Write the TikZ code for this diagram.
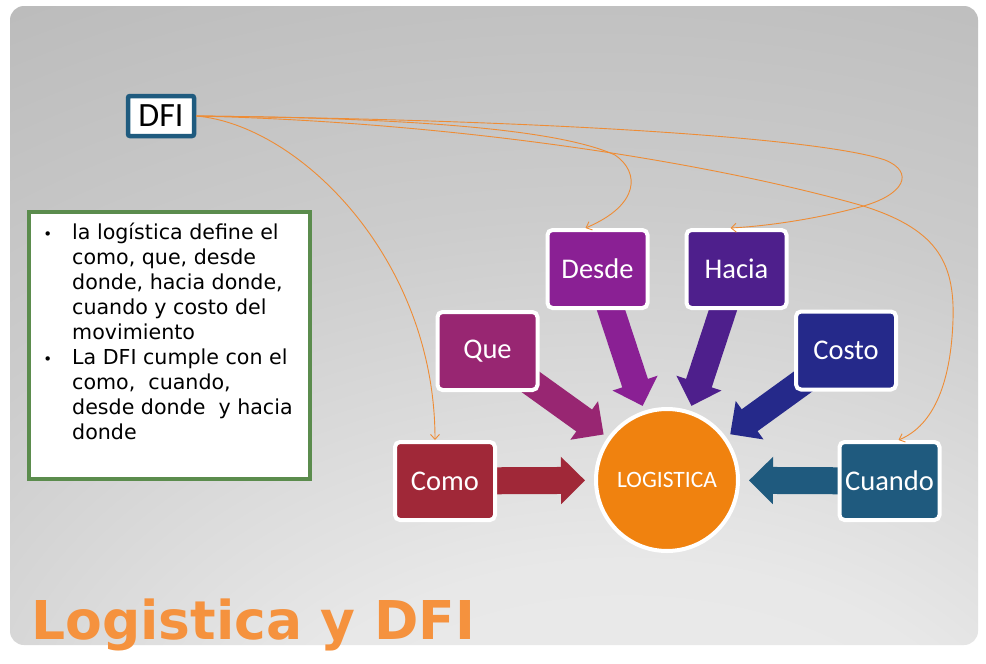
\documentclass[tikz,border=0pt]{standalone}
\usepackage{fontspec}
\setmainfont{DejaVu Sans}
\newfontfamily\calib{Carlito}
\newfontfamily\dejavu{DejaVu Sans}
\usetikzlibrary{arrows.meta,calc}
\pgfdeclarelayer{bg}
\pgfdeclarelayer{barrows}
\pgfsetlayers{bg,barrows,main}
\definecolor{comoc}{HTML}{A02838}
\definecolor{quec}{HTML}{982672}
\definecolor{desdec}{HTML}{8A2094}
\definecolor{haciac}{HTML}{4E1F8C}
\definecolor{costoc}{HTML}{25298A}
\definecolor{cuandoc}{HTML}{1F5A7E}
\definecolor{logic}{HTML}{F0820F}
\definecolor{dfiblue}{HTML}{1F5B7F}
\definecolor{boxgreen}{HTML}{5B8C4D}
\definecolor{titleorange}{HTML}{F5923E}
\definecolor{lineorange}{HTML}{EE8C35}
\pgfdeclareradialshading{slidebg}{\pgfpoint{8bp}{-46bp}}{%
  color(0bp)=(black!7); color(20bp)=(black!9); color(40bp)=(black!20);
  color(65bp)=(black!29); color(95bp)=(black!34); color(125bp)=(black!37)}
\tikzset{
  wbox/.style={draw=white, line width=4pt, rounded corners=5pt,
    minimum width=100pt, minimum height=78pt, inner sep=0pt,
    font=\calib\fontsize{28.5}{30}\selectfont, text=white},
  barrow/.style={line width=27pt, -{Triangle[length=24pt,width=46pt]}},
  orangeline/.style={draw=lineorange, line width=0.9pt,
    -{Straight Barb[length=5pt,width=9pt]}},
}
\begin{document}
\begin{tikzpicture}[x=1pt,y=-1pt]
\useasboundingbox (0,0) rectangle (986,664);
\begin{pgfonlayer}{bg}
  \fill[white] (0,0) rectangle (986,664);
  \shade[shading=slidebg, rounded corners=14pt] (10,6) rectangle (978,645);
\end{pgfonlayer}

% title
\node[anchor=base west, inner sep=0pt, text=titleorange,
  font=\dejavu\bfseries\fontsize{53.5}{58}\selectfont] (title) at (31,639) {Logistica y DFI};

% DFI box
\node[draw=dfiblue, line width=4.5pt, fill=white, minimum width=66pt,
  minimum height=40pt, rounded corners=2pt, inner sep=0pt,
  font=\calib\fontsize{34}{36}\selectfont] (dfi) at (161,116) {DFI};

% notes box
\node[draw=boxgreen, fill=white, line width=4pt, minimum width=281pt,
  minimum height=267pt, inner sep=0pt] (notes) at (169.5,345.5) {};
\node[anchor=north west, inner sep=0pt, font=\dejavu\fontsize{20.6}{25}\selectfont] (notetext) at (30,221.5) {%
\begin{tabular}{@{}p{42pt}@{}l@{}}
\hfill{\fontsize{15}{25}\selectfont •}\hspace{20pt} & la logística define el\\
 & como, que, desde\\
 & donde, hacia donde,\\
 & cuando y costo del\\
 & movimiento\\
\hfill{\fontsize{15}{25}\selectfont •}\hspace{20pt} & La DFI cumple con el\\
 & como,\ \ cuando,\\
 & desde donde\ \ y hacia\\
 & donde
\end{tabular}};

% boxes
\node[wbox, fill=comoc] (como) at (445,481) {Como};
\node[wbox, fill=quec] (que) at (487.5,351) {Que};
\node[wbox, fill=desdec] (desde) at (597.5,269) {Desde};
\node[wbox, fill=haciac] (hacia) at (736.5,269) {Hacia};
\node[wbox, fill=costoc] (costo) at (846,350.5) {Costo};
\node[wbox, fill=cuandoc] (cuando) at (889.5,481) {Cuando};
\node[circle, fill=logic, draw=white, line width=4pt, minimum size=142pt,
  inner sep=0pt, text=white, font=\calib\fontsize{23.5}{25}\selectfont] (logi) at (667,480) {LOGISTICA};

% block arrows
\begin{pgfonlayer}{barrows}
  \draw[barrow, draw=comoc, shorten >=9pt] (como.center) -- (logi);
  \draw[barrow, draw=quec, shorten >=5pt] (que.center) -- (logi);
  \draw[barrow, draw=desdec, shorten >=5pt] (desde.center) -- (logi);
  \draw[barrow, draw=haciac, shorten >=5pt] (hacia.center) -- (logi);
  \draw[barrow, draw=costoc, shorten >=5pt] (costo.center) -- (logi);
  \draw[barrow, draw=cuandoc, shorten >=9pt] (cuando.center) -- (logi);
\end{pgfonlayer}

% orange connectors
\draw[orangeline] (dfi.east) .. controls (300,125) and (435,260) .. ([xshift=-10pt]como.north);
\draw[orangeline] (dfi.east) .. controls (420,118) and (560,130) .. (615,155)
  .. controls (640,172) and (640,205) .. ([xshift=-12pt]desde.north);
\draw[orangeline] (dfi.east) .. controls (550,120) and (820,138) .. (885,160)
  .. controls (915,172) and (905,195) .. (860,207)
  .. controls (820,218) and (770,226) .. ([xshift=-6pt]hacia.north);
\draw[orangeline] (dfi.east) .. controls (450,122) and (700,160) .. (860,205)
  .. controls (935,228) and (955,260) .. (953,320)
  .. controls (951,380) and (935,425) .. ([xshift=9pt]cuando.north);
\end{tikzpicture}
\end{document}
